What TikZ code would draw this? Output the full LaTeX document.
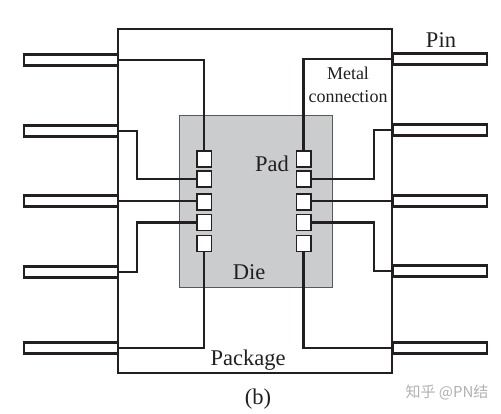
\documentclass[tikz,border=0pt]{standalone}
\usepackage{fontspec}
\setmainfont{Liberation Serif}
\newfontfamily\cjkmark{Noto Sans CJK SC}
\usepackage{xcolor}
\usetikzlibrary{positioning,calc}
\definecolor{diegray}{HTML}{CBCCCE}
\definecolor{ink}{HTML}{231F20}
\begin{document}
\begin{tikzpicture}[
  x=1pt,y=-1pt,
  every node/.style={align=center,text=ink,inner sep=0pt,outer sep=0pt},
  pkgbox/.style={rectangle,draw=ink,line width=2pt,minimum width=274pt,minimum height=344pt},
  diebox/.style={rectangle,draw=ink!75,line width=1pt,fill=diegray,minimum width=153pt,minimum height=172pt},
  padbox/.style={rectangle,draw=ink,line width=1.5pt,fill=white,minimum width=14.5pt,minimum height=16pt},
  lead/.style={rectangle,draw=ink,line width=2.2pt,fill=white,minimum width=94pt,minimum height=11pt},
  wire/.style={draw=ink,line width=2.4pt},
  big/.style={font=\fontsize{22.5}{25}\selectfont},
  small/.style={font=\fontsize{18}{23}\selectfont}
]
\useasboundingbox (0,0) rectangle (501,414);

\node[lead] (pinLa) at (71,60) {};
\node[lead] (pinLb) at (71,131) {};
\node[lead] (pinLc) at (71,201) {};
\node[lead] (pinLd) at (71,272) {};
\node[lead] (pinLe) at (71,348) {};
\node[lead] (pinRa) at (440,59) {};
\node[lead] (pinRb) at (440,130) {};
\node[lead] (pinRc) at (440,201) {};
\node[lead] (pinRd) at (440,271) {};
\node[lead] (pinRe) at (440,348) {};

\node[pkgbox] (pkg) at (255,201) {};
\node[diebox] (die) at (255.5,202) {};

\node[padbox] (padLa) at (204,159) {};
\node[padbox,below=4pt of padLa] (padLb) {};
\node[padbox,below=7pt of padLb] (padLc) {};
\node[padbox,below=4.5pt of padLc] (padLd) {};
\node[padbox,below=5pt of padLd] (padLe) {};
\node[padbox,right=85pt of padLa] (padRa) {};
\node[padbox,right=85pt of padLb] (padRb) {};
\node[padbox,right=85pt of padLc] (padRc) {};
\node[padbox,right=85pt of padLd] (padRd) {};
\node[padbox,right=85pt of padLe] (padRe) {};

\draw[wire] (pinLa.east) -| (padLa.north);
\draw[wire] (pinLb.east) -- ++(19,0) |- (padLb.west);
\draw[wire] (pinLc.east) -- (pinLc.east -| padLc.west);
\draw[wire] (pinLd.east) -- ++(19,0) |- (padLd.west);
\draw[wire] (pinLe.east) -| (padLe.south);
\draw[wire] (pinRa.west) -| (padRa.north);
\draw[wire] (pinRb.west) -- ++(-19,0) |- (padRb.east);
\draw[wire] (pinRc.west) -- (pinRc.west -| padRc.east);
\draw[wire] (pinRd.west) -- ++(-19,0) |- (padRd.east);
\draw[wire] (pinRe.west) -| (padRe.south);

\node[big] (pinlabel) at (441,40) {Pin};
\node[small] (metal) at (348,85) {Metal\\connection};
\node[big] (padlabel) at (272,164) {Pad};
\node[big] (dielabel) at (249,272) {Die};
\node[big] (pkglabel) at (248,360) {Package};
\node[big] (caption) at (258,399) {(b)};
\node[font=\cjkmark\fontsize{15}{17}\selectfont,text=ink!35] (mark) at (447,392) {知乎 @PN结};
\end{tikzpicture}
\end{document}
